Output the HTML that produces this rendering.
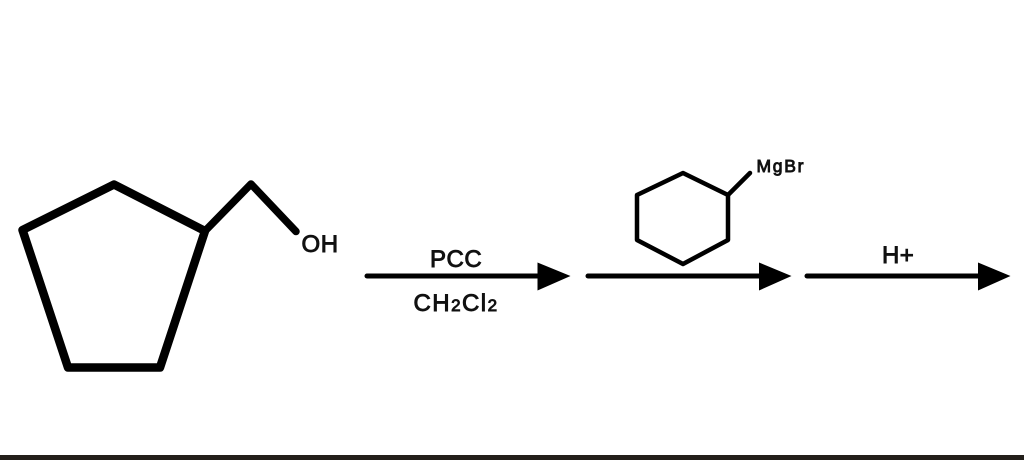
<!DOCTYPE html>
<html>
<head>
<meta charset="utf-8">
<style>
html,body{margin:0;padding:0;background:#fff;width:1024px;height:460px;overflow:hidden}
svg{display:block}
text{font-family:"Liberation Sans",sans-serif;fill:#111;stroke:#111;stroke-width:.9}
</style>
</head>
<body>
<svg width="1024" height="460" viewBox="0 0 1024 460" xmlns="http://www.w3.org/2000/svg">
<rect width="1024" height="460" fill="#fff"/>
<g fill="none" stroke="#000" stroke-linejoin="round" stroke-linecap="round">
<polygon points="22.5,230 114,184.5 205,231 160,367.5 68,367.5" stroke-width="8.5"/>
<polyline points="205,231 251,184 296,231.5" stroke-width="7.5"/>
<polygon points="728,195 683,173 637,195 637,240 683,264 728,240" stroke-width="4.5"/>
<line x1="728" y1="195" x2="750" y2="173" stroke-width="4.5"/>
<line x1="367" y1="276" x2="540" y2="276" stroke-width="5"/>
<line x1="588" y1="276" x2="762" y2="276" stroke-width="5"/>
<line x1="807" y1="276" x2="980" y2="276" stroke-width="5"/>
</g>
<polygon points="537.500,262.500 570.500,276 537.500,290.500" fill="#000"/>
<polygon points="759,262.500 791.500,276 759,290.500" fill="#000"/>
<polygon points="978,262.500 1010.500,276 978,290.500" fill="#000"/>
<text x="301.500" y="252" font-size="24" letter-spacing=".6">OH</text>
<text x="430" y="267" font-size="24" letter-spacing=".5">PCC</text>
<text x="413.500" y="311" font-size="24" letter-spacing="1.450">CH<tspan font-size="17">2</tspan>Cl<tspan font-size="17">2</tspan></text>
<text x="756.500" y="172" font-size="17.500" letter-spacing="1.700" stroke-width=".5">MgBr</text>
<text x="882" y="263" font-size="24" letter-spacing=".4">H+</text>
<rect x="0" y="455" width="1024" height="5" fill="#231f1a"/>
</svg>
</body>
</html>
